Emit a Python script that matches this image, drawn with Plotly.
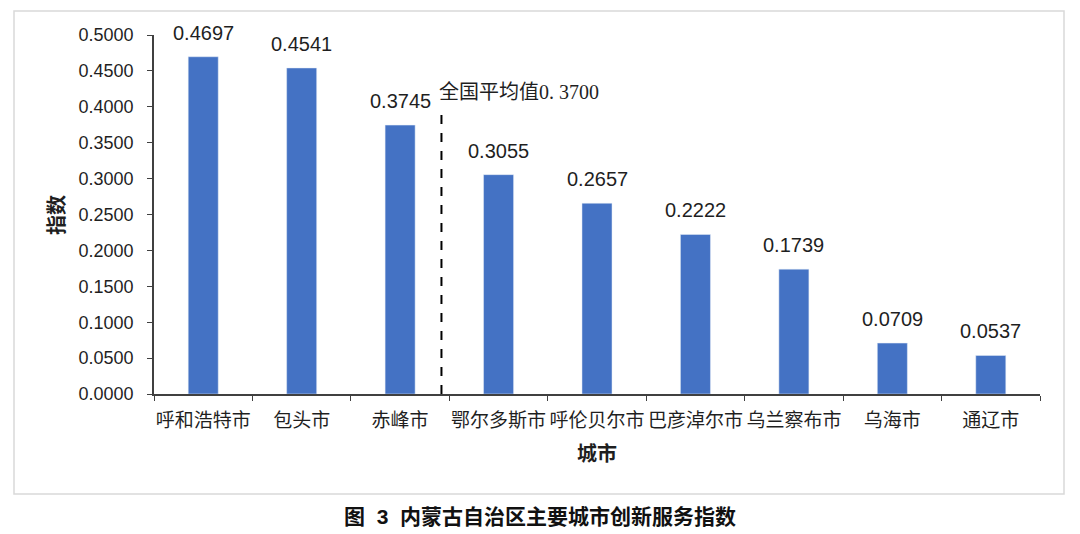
import plotly.graph_objects as go

cities = ["呼和浩特市", "包头市", "赤峰市", "鄂尔多斯市", "呼伦贝尔市", "巴彦淖尔市", "乌兰察布市", "乌海市", "通辽市"]
values = [0.4697, 0.4541, 0.3745, 0.3055, 0.2657, 0.2222, 0.1739, 0.0709, 0.0537]
y_ticks = [0.0, 0.05, 0.10, 0.15, 0.20, 0.25, 0.30, 0.35, 0.40, 0.45, 0.50]
national_avg = 0.3700
avg_label = "全国平均值0. 3700"
title_text = "图  3  内蒙古自治区主要城市创新服务指数"

W, H = 1080, 534
L, R, T, B = 154, 40, 35, 140
pw, ph = W - L - R, H - T - B

def px_x(x):
    return (x - L) / pw

def px_y(y):
    return (H - B - y) / ph

sans = "Liberation Sans, Noto Sans CJK SC, Arial, sans-serif"
txt = "#1f1f1f"

fig = go.Figure()
fig.add_trace(go.Bar(x=cities, y=values, marker_color="#4472C4", width=0.305,
                     hoverinfo="x+y"))

annotations = []
for c, v in zip(cities, values):
    annotations.append(dict(x=c, y=v, text=f"{v:.4f}", showarrow=False,
                            xanchor="center", yanchor="bottom", yshift=11,
                            font=dict(family=sans, size=20, color=txt)))

# average line position (between 3rd and 4th category)
avg_x = 2.42
annotations.append(dict(x=avg_x - 0.05, y=0.4206, text=avg_label, showarrow=False,
                        xanchor="left", yanchor="middle",
                        font=dict(family="Liberation Serif, Noto Sans CJK SC, serif", size=20, color=txt)))
annotations.append(dict(xref="paper", yref="paper", x=px_x(57), y=px_y(215), text="<b>指数</b>",
                        showarrow=False, textangle=-90, xanchor="center", yanchor="middle",
                        font=dict(family=sans, size=20, color=txt)))
annotations.append(dict(xref="paper", yref="paper", x=px_x(597), y=px_y(453), text="<b>城市</b>",
                        showarrow=False, xanchor="center", yanchor="middle",
                        font=dict(family=sans, size=20, color=txt)))
annotations.append(dict(xref="paper", yref="paper", x=px_x(540), y=px_y(516), text="<b>" + title_text + "</b>",
                        showarrow=False, xanchor="center", yanchor="middle",
                        font=dict(family=sans, size=21, color="#111")))

shapes = [
    dict(type="line", xref="x", yref="y", x0=avg_x, x1=avg_x, y0=0, y1=0.392,
         line=dict(color="#000", width=2, dash="dash")),
    dict(type="rect", xref="paper", yref="paper", x0=px_x(14), x1=px_x(1064),
         y0=px_y(494), y1=px_y(11), line=dict(color="#d9d9d9", width=1.5), layer="below"),
]

fig.update_layout(
    width=W, height=H, margin=dict(l=L, r=R, t=T, b=B, autoexpand=False),
    paper_bgcolor="white", plot_bgcolor="white", showlegend=False,
    annotations=annotations, shapes=shapes, bargap=0.2,
)
fig.update_xaxes(type="category", showline=True, linecolor="#404040", linewidth=1.5,
                 ticks="outside", tickson="boundaries", ticklen=5, tickcolor="#404040",
                 tickangle=0, showgrid=False, range=[-0.5, 8.5], ticklabelstandoff=8,
                 tickfont=dict(family=sans, size=19, color=txt))
fig.update_yaxes(range=[0, 0.5], tickvals=y_ticks, ticktext=[f"{v:.4f}" for v in y_ticks],
                 showline=True, linecolor="#404040", linewidth=1.5, ticks="outside",
                 ticklen=5, tickcolor="#404040", showgrid=False, zeroline=False,
                 ticklabelstandoff=10, tickfont=dict(family=sans, size=18, color=txt))

fig.write_html("out.html")
